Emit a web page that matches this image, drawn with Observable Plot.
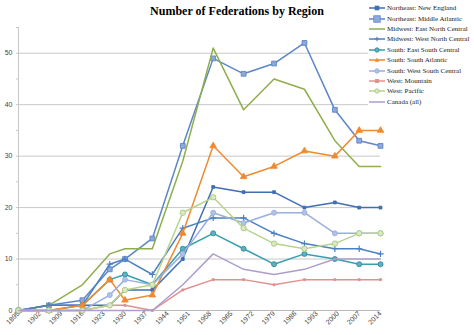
<!DOCTYPE html>
<html>
<head>
<meta charset="utf-8">
<script src="https://cdn.jsdelivr.net/npm/d3@7"></script>
<script src="https://cdn.jsdelivr.net/npm/@observablehq/plot@0.6"></script>
<style>
  html, body { margin: 0; padding: 0; background: #fff; }
  #wrap { position: relative; width: 474px; height: 335px; overflow: hidden; }
  #title { position: absolute; left: 0; width: 474px; top: 4px; text-align: center;
    font: bold 12px "Liberation Serif", "Times New Roman", serif; color: #000; }
  #legend { position: absolute; left: 368px; top: 3px; width: 106px; background: #fff;
    font: 7px "Liberation Serif", serif; color: #222; padding-bottom: 3px; }
  .row { display: flex; align-items: center; height: 10.4px; white-space: nowrap; }
  .row svg { flex: none; margin-right: 1px; }
</style>
</head>
<body>
<div id="wrap">
  <div id="chart"></div>
  <div id="title">Number of Federations by Region</div>
  <div id="legend"></div>
</div>
<script>
// ---- data ----
const years = [1895, 1905, 1916, 1925, 1930, 1939, 1949, 1959, 1969, 1979, 1989, 1999, 2007, 2014];
const tickYears = [1895, 1902, 1909, 1916, 1923, 1930, 1937, 1944, 1951, 1958, 1965, 1972, 1979, 1986, 1993, 2000, 2007, 2014];
const yTicks = [0, 10, 20, 30, 40, 50];

const seriesNames = [
  "Northeast: New England",
  "Northeast: Middle Atlantic",
  "Midwest: East North Central",
  "Midwest: West North Central",
  "South: East South Central",
  "South: South Atlantic",
  "South: West South Central",
  "West: Mountain",
  "West: Pacific",
  "Canada (all)"
];
const neNewEngland       = [0, 1, 1, 1, 4, 4, 10, 24, 23, 23, 20, 21, 20, 20];
const neMiddleAtlantic   = [0, 1, 2, 8, 10, 14, 32, 49, 46, 48, 52, 39, 33, 32];
const mwEastNorthCentral = [0, 1, 5, 11, 12, 12, 29, 51, 39, 45, 43, 33, 28, 28];
const mwWestNorthCentral = [0, 1, 1, 9, 10, 7, 16, 18, 18, 15, 13, 12, 12, 11];
const sEastSouthCentral  = [0, 0, 1, 6, 7, 5, 12, 15, 12, 9, 11, 10, 9, 9];
const sSouthAtlantic     = [0, 0, 1, 6, 2, 3, 15, 32, 26, 28, 31, 30, 35, 35];
const sWestSouthCentral  = [0, 0, 0, 3, 6, 5, 11, 19, 17, 19, 19, 15, 15, 15];
const wMountain          = [0, 0, 0, 1, 1, 0, 4, 6, 6, 5, 6, 6, 6, 6];
const wPacific           = [0, 0, 0, 1, 4, 5, 19, 22, 16, 13, 12, 13, 15, 15];
const canadaAll          = [0, 0, 0, 0, 0, 0, 5, 11, 8, 7, 8, 10, 10, 10];
const seriesValues = [neNewEngland, neMiddleAtlantic, mwEastNorthCentral, mwWestNorthCentral,
  sEastSouthCentral, sSouthAtlantic, sWestSouthCentral, wMountain, wPacific, canadaAll];

// ---- styles ----
const styles = [
  {stroke: "#3f6fb2", symbol: "square", r: 1.6, fill: "#3f6fb2", mstroke: "#3f6fb2"},
  {stroke: "#5c86c6", symbol: "square", r: 2.7, fill: "#8ea9d8", mstroke: "#5c86c6"},
  {stroke: "#8fae4c", symbol: null},
  {stroke: "#4b80c3", symbol: "plus", r: 2.2, fill: "none", mstroke: "#4b80c3"},
  {stroke: "#36a0b0", symbol: "circle", r: 2.5, fill: "#5bb3c0", mstroke: "#2d8c9a"},
  {stroke: "#f08a30", symbol: "triangle", r: 2.4, fill: "#f08a30", mstroke: "#f08a30"},
  {stroke: "#9aafdd", symbol: "circle", r: 2.5, fill: "#b2c1e5", mstroke: "#9aafdd"},
  {stroke: "#e0908e", symbol: "square", r: 1.1, fill: "#e0908e", mstroke: "#e0908e"},
  {stroke: "#b7d48a", symbol: "circle", r: 2.7, fill: "#dbe8c6", mstroke: "#a9c77a"},
  {stroke: "#ad9dcd", symbol: null}
];

const rows = [];
seriesNames.forEach((name, s) => years.forEach((yr, i) => rows.push({s, name, year: yr, value: seriesValues[s][i]})));

const marks = [
  Plot.gridY(yTicks.filter(d => d > 0), {stroke: "#c8c8c8", strokeOpacity: 1, strokeWidth: 1}),
  Plot.ruleY([0], {stroke: "#b8b8b8"}),
  Plot.ruleX([1895], {stroke: "#c8c8c8"}),
  Plot.axisY(d3.range(0, 56, 5), {tickSize: 2, tickPadding: 4, stroke: "#c8c8c8", label: null,
    tickFormat: d => d % 10 === 0 ? String(d) : "", fontSize: 7, fill: "#444"}),
  Plot.axisX(tickYears, {tickSize: 0, tickPadding: 2, tickRotate: -45, label: null,
    tickFormat: d => String(d), fontSize: 7, fill: "#444"})
];
seriesNames.forEach((name, s) => {
  const st = styles[s];
  const data = rows.filter(d => d.s === s);
  marks.push(Plot.line(data, {x: "year", y: "value", stroke: st.stroke, strokeWidth: 1.5}));
  if (st.symbol) {
    marks.push(Plot.dot(data, {x: "year", y: "value", symbol: st.symbol, r: st.r,
      fill: st.fill, stroke: st.mstroke, strokeWidth: st.symbol === "plus" ? 1.2 : 0.9}));
  }
});

const chart = Plot.plot({
  width: 474,
  height: 335,
  marginLeft: 18,
  marginRight: 94,
  marginTop: 27,
  marginBottom: 25,
  style: {fontFamily: "'Liberation Sans', Arial, sans-serif", background: "#fff"},
  x: {type: "linear", domain: [1895, 2014], label: null},
  y: {domain: [0, 55], label: null},
  marks
});
document.getElementById("chart").appendChild(chart);

// ---- legend ----
const legend = document.getElementById("legend");
seriesNames.forEach((name, s) => {
  const st = styles[s];
  const row = document.createElement("div");
  row.className = "row";
  let marker = "";
  if (st.symbol === "square") {
    const h = Math.max(st.r * 1.2, 1.6);
    marker = `<rect x="${9 - h}" y="${4 - h}" width="${2 * h}" height="${2 * h}" fill="${st.fill}" stroke="${st.mstroke}" stroke-width="0.8"/>`;
  } else if (st.symbol === "circle") {
    marker = `<circle cx="9" cy="4" r="2.2" fill="${st.fill}" stroke="${st.mstroke}" stroke-width="0.9"/>`;
  } else if (st.symbol === "triangle") {
    marker = `<path d="M9,1.5L11.3,5.8H6.7Z" fill="${st.fill}"/>`;
  } else if (st.symbol === "plus") {
    marker = `<path d="M9,1.8V6.2M6.8,4H11.2" stroke="${st.mstroke}" stroke-width="1.1"/>`;
  }
  row.innerHTML = `<svg width="18" height="8"><line x1="1" y1="4" x2="17" y2="4" stroke="${st.stroke}" stroke-width="1.5"/>${marker}</svg><span>${name}</span>`;
  legend.appendChild(row);
});
</script>
</body>
</html>
